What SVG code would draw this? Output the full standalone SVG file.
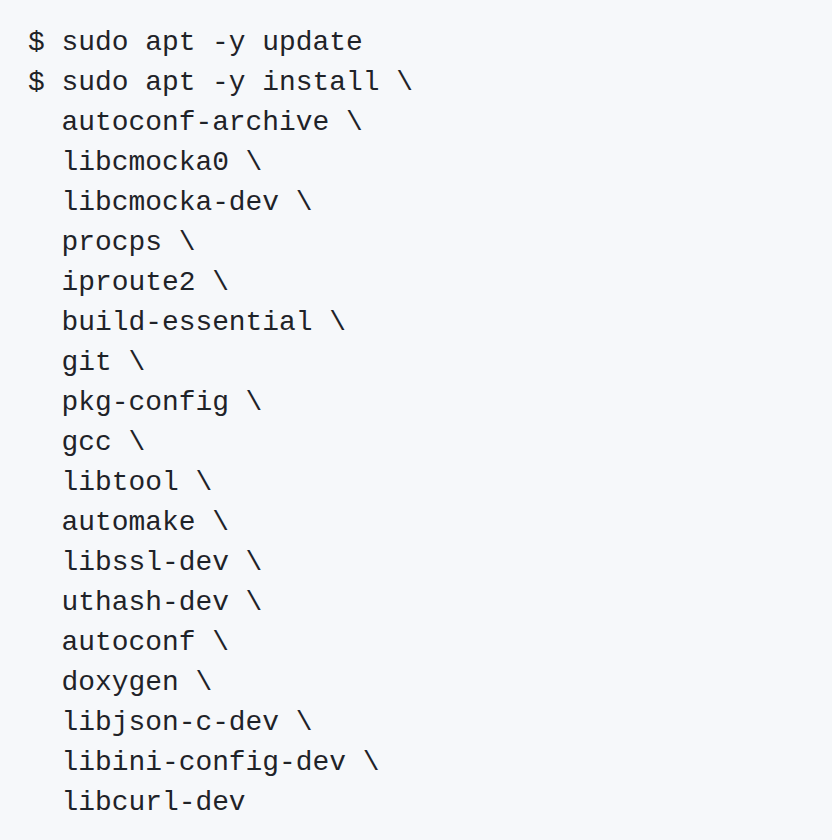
<svg xmlns="http://www.w3.org/2000/svg" width="832" height="840" viewBox="0 0 832 840">
<style>
text{font-family:"Liberation Mono","DejaVu Sans Mono",monospace;font-size:27.9px;fill:#1f2328;white-space:pre}
</style>
<rect width="832" height="840" fill="#f6f8fa"/>
<g id="code">
<text x="28" y="50">$ sudo apt -y update</text>
<text x="28" y="90">$ sudo apt -y install \</text>
<text x="61.5" y="130">autoconf-archive \</text>
<text x="61.5" y="170">libcmocka0 \</text>
<text x="61.5" y="210">libcmocka-dev \</text>
<text x="61.5" y="250">procps \</text>
<text x="61.5" y="290">iproute2 \</text>
<text x="61.5" y="330">build-essential \</text>
<text x="61.5" y="370">git \</text>
<text x="61.5" y="410">pkg-config \</text>
<text x="61.5" y="450">gcc \</text>
<text x="61.5" y="490">libtool \</text>
<text x="61.5" y="530">automake \</text>
<text x="61.5" y="570">libssl-dev \</text>
<text x="61.5" y="610">uthash-dev \</text>
<text x="61.5" y="650">autoconf \</text>
<text x="61.5" y="690">doxygen \</text>
<text x="61.5" y="730">libjson-c-dev \</text>
<text x="61.5" y="770">libini-config-dev \</text>
<text x="61.5" y="810">libcurl-dev</text>
</g>
</svg>
